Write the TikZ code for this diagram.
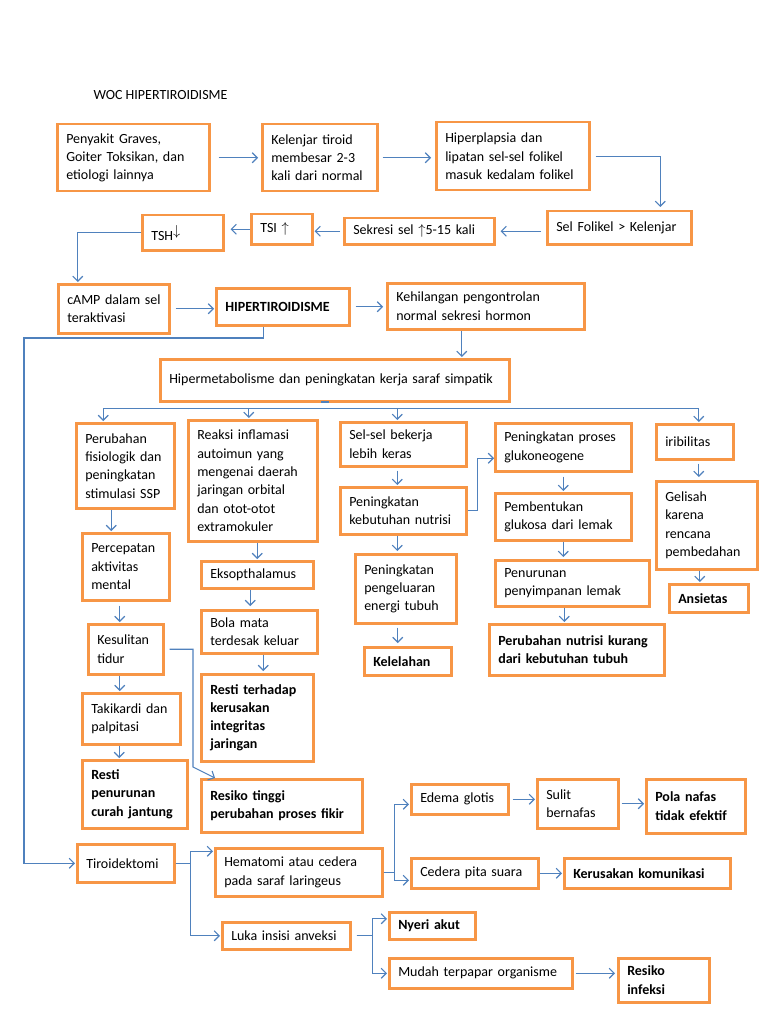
\documentclass[tikz,border=0pt]{standalone}
\usepackage{fontspec}
\setmainfont{Carlito}
\usetikzlibrary{arrows.meta}
\definecolor{boxorange}{HTML}{F79646}
\definecolor{lineblue}{HTML}{4F81BD}

\begin{document}
\begin{tikzpicture}[x=1pt, y=-1pt,
    every node/.style={font=\fontsize{14}{18.3}\selectfont},
    box/.style={draw=boxorange, line width=2.5pt, anchor=north west, align=left, inner xsep=9pt, inner ysep=3pt},
    bold/.style={font=\fontsize{14}{18.3}\selectfont\bfseries},
    sz/.style 2 args={text width=#1-18, minimum height=#2},
    link/.style={draw=lineblue, line width=1.1pt},
    arr/.style={link, -{Straight Barb[length=5pt,width=10pt]}}]
    \fill[white] (0,0) rectangle (768,1024);

    \node[anchor=west] (title) at (90,95) {WOC HIPERTIROIDISME};
    \node[box, sz={152}{67}] (graves) at (56,123) {Penyakit Graves,\\Goiter Toksikan, dan\\etiologi lainnya};
    \node[box, sz={115}{67}] (kelenjar) at (261,123) {Kelenjar tiroid\\membesar 2-3\\kali dari normal};
    \node[box, sz={153}{68}] (hiperplasia) at (435,121) {Hiperplapsia dan\\lipatan sel-sel folikel\\masuk kedalam folikel};
    \node[box, sz={144}{33}] (folikel) at (546,210) {Sel Folikel > Kelenjar};
    \node[box, sz={150}{26}] (sekresi) at (343,217) {Sekresi sel $\uparrow$5-15 kali};
    \node[box, sz={61}{30}] (tsi) at (250,213) {TSI $\uparrow$};
    \node[box, sz={81}{35}] (tsh) at (141,214) {TSH\raisebox{5pt}{$\downarrow$}};
    \node[box, sz={111}{49}] (camp) at (57,283) {\mbox{cAMP dalam sel}\\teraktivasi};
    \node[box, bold, sz={133}{37}] (hiper) at (215,287) {HIPERTIROIDISME};
    \node[box, sz={197}{46}] (kontrol) at (386,282) {Kehilangan pengontrolan\\normal sekresi hormon};
    \node[box, sz={349}{42}] (meta) at (159,358) {Hipermetabolisme dan peningkatan kerja saraf simpatik};

    \node[box, sz={98}{85}] (fisio) at (75,422) {Perubahan\\fisiologik dan\\peningkatan\\stimulasi SSP};
    \node[box, sz={87}{67}] (mental) at (81,532) {Percepatan\\aktivitas\\mental};
    \node[box, sz={75}{50}] (tidur) at (87,623) {Kesulitan\\tidur};
    \node[box, sz={98}{51}] (taki) at (81,692) {Takikardi dan\\palpitasi};
    \node[box, bold, sz={105}{68}] (jantung) at (81,759) {Resti\\penurunan\\curah jantung};
    \node[box, sz={129}{121}] (reaksi) at (187,419) {Reaksi inflamasi\\autoimun yang\\mengenai daerah\\jaringan orbital\\dan otot-otot\\extramokuler};
    \node[box, sz={112}{27}] (eksop) at (200,560) {Eksopthalamus};
    \node[box, sz={116}{43}] (bola) at (200,609) {Bola mata\\terdesak keluar};
    \node[box, bold, sz={112}{87}] (integ) at (200,673) {Resti terhadap\\kerusakan\\integritas\\jaringan};
    \node[box, bold, sz={161}{53}] (fikir) at (200,778) {Resiko tinggi\\perubahan proses fikir};
    \node[box, sz={126}{44}] (keras) at (339,421) {Sel-sel bekerja\\lebih keras};
    \node[box, sz={126}{47}] (butuh) at (339,486) {Peningkatan\\kebutuhan nutrisi};
    \node[box, sz={101}{69}] (energi) at (354,553) {Peningkatan\\pengeluaran\\energi tubuh};
    \node[box, bold, sz={87}{28}] (lelah) at (363,646) {Kelelahan};
    \node[box, sz={136}{48}] (gluko) at (494,422) {Peningkatan proses\\glukoneogene};
    \node[box, sz={136}{47}] (bentuk) at (494,492) {Pembentukan\\glukosa dari lemak};
    \node[box, sz={154}{46}] (simpan) at (494,559) {Penurunan\\penyimpanan lemak};
    \node[box, bold, sz={175}{51}] (nutrisi) at (488,623) {Perubahan nutrisi kurang\\dari kebutuhan tubuh};
    \node[box, sz={77}{35}] (iri) at (655,423) {iribilitas};
    \node[box, sz={101}{88}] (gelisah) at (655,480) {Gelisah\\karena\\rencana\\pembedahan};
    \node[box, bold, sz={79}{28}] (ansietas) at (668,583) {Ansietas};

    \node[box, sz={97}{38}] (tiroid) at (76,843) {Tiroidektomi};
    \node[box, sz={167}{48}] (hemat) at (214,847) {Hematomi atau cedera\\pada saraf laringeus};
    \node[box, sz={97}{30}] (edema) at (410,783) {Edema glotis};
    \node[box, sz={81}{49}] (sulit) at (536,778) {Sulit\\bernafas};
    \node[box, bold, sz={99}{54}] (pola) at (645,778) {Pola nafas\\tidak efektif};
    \node[box, sz={127}{30}] (cedera) at (410,857) {Cedera pita suara};
    \node[box, bold, sz={166}{30}] (komun) at (563,857) {Kerusakan komunikasi};
    \node[box, sz={128}{27}] (luka) at (221,921) {Luka insisi anveksi};
    \node[box, bold, sz={86}{27}] (nyeri) at (388,911) {Nyeri akut};
    \node[box, sz={183}{30}] (mudah) at (388,957) {Mudah terpapar organisme};
    \node[box, bold, sz={91}{44}] (infeksi) at (617,957) {Resiko\\infeksi};

    \draw[arr, shorten <=8pt, shorten >=3pt] (graves.east) -- (graves.east -| kelenjar.west);
    \draw[arr, shorten <=4pt, shorten >=4pt] (kelenjar.east) -- (kelenjar.east -| hiperplasia.west);
    \draw[arr] ([xshift=5pt]hiperplasia.east) -| ([xshift=41pt,yshift=3pt]folikel.north);
    \draw[arr, shorten <=5pt, shorten >=5pt] (sekresi.east -| folikel.west) -- (sekresi.east);
    \draw[arr, shorten <=3pt, shorten >=1pt] (sekresi.west) -- (sekresi.west -| tsi.east);
    \draw[arr, shorten >=6pt] (tsi.west) -- (tsi.west -| tsh.east);
    \draw[arr, shorten >=1pt] (tsh.west) -| ([xshift=-36pt]camp.north);
    \draw[arr, shorten <=5pt, shorten >=1pt] (camp.east) -- (camp.east -| hiper.west);
    \draw[arr, shorten <=5pt, shorten >=3pt] (hiper.east) -- (hiper.east -| kontrol.west);
    \draw[arr, shorten >=1pt] ([xshift=-24pt]kontrol.south) -- ([xshift=-24pt]kontrol.south |- meta.north);
    \coordinate (rail) at (24,338);
    \draw[arr, shorten >=1pt] ([xshift=-19.5pt]hiper.south) |- (rail) |- (tiroid.west);

    \coordinate (bus) at ([yshift=-6pt]meta.south);
    \draw[link] ([xshift=-22pt]fisio.north |- bus) -- ([xshift=4pt]iri.north |- bus);
    \draw[link] (321,402) -- (329,402);
    \foreach \n/\d in {fisio/-22, reaksi/-4, keras/-6, iri/4}
        \draw[arr, shorten >=1pt] ([xshift=\d pt]\n.north |- bus) -- ([xshift=\d pt]\n.north);

    \draw[arr, shorten >=1pt] ([xshift=-14pt]fisio.south) -- ([xshift=-14pt]fisio.south |- mental.north);
    \draw[arr, shorten <=4pt, shorten >=1pt] ([xshift=-6pt]mental.south) -- ([xshift=-6pt]mental.south |- tidur.north);
    \draw[arr, shorten >=1pt] ([xshift=-6pt]tidur.south) -- ([xshift=-6pt]tidur.south |- taki.north);
    \draw[arr, shorten >=1pt] ([xshift=-12pt]taki.south) -- ([xshift=-12pt]taki.south |- jantung.north);
    \coordinate (bend) at (193,767);
    \draw[arr] ([xshift=5pt]tidur.east) -| (bend) -- ([xshift=15pt]fikir.north west);

    \draw[arr, shorten >=1pt] (eksop.north |- reaksi.south) -- (eksop.north);
    \draw[arr, shorten >=3pt] ([xshift=-7pt]eksop.south) -- ([xshift=-7pt]eksop.south |- bola.north);
    \draw[arr, shorten >=2pt] ([xshift=4pt]bola.south) -- ([xshift=4pt]bola.south |- integ.north);

    \draw[arr, shorten <=3pt, shorten >=1pt] ([xshift=-6pt]keras.south) -- ([xshift=-6pt]keras.south |- butuh.north);
    \draw[arr] (butuh.east) -- ++(10,0) |- ([yshift=-11pt]gluko.west);
    \draw[arr, shorten >=2pt] ([xshift=-6pt]butuh.south) -- ([xshift=-6pt]butuh.south |- energi.north);
    \draw[arr, shorten <=3pt, shorten >=3pt] ([xshift=-8pt]energi.south) -- ([xshift=-8pt]energi.south |- lelah.north);

    \draw[arr, shorten <=4pt, shorten >=1pt] (gluko.south) -- (gluko.south |- bentuk.north);
    \draw[arr, shorten >=2pt] (bentuk.south) -- (bentuk.south |- simpan.north);
    \draw[arr, shorten >=1pt] ([xshift=-8pt]simpan.south) -- ([xshift=-8pt]simpan.south |- nutrisi.north);
    \draw[arr, shorten <=3pt, shorten >=3pt] ([xshift=4pt]iri.south) -- ([xshift=4pt]iri.south |- gelisah.north);
    \draw[arr, shorten >=1pt] ([xshift=-7pt]gelisah.south) -- ([xshift=-7pt]gelisah.south |- ansietas.north);

    \draw[arr, shorten >=1pt] (tiroid.east) -- ++(15,0) |- ([yshift=21pt]hemat.west);
    \draw[arr, shorten >=1pt] (tiroid.east) -- ++(15,0) |- (luka.west);
    \draw[arr, shorten >=1pt] (hemat.east) -- ++(11,0) |- ([yshift=-5pt]edema.west);
    \draw[arr, shorten >=1pt] (hemat.east) -- ++(11,0) |- ([yshift=-7pt]cedera.west);
    \draw[arr, shorten <=3pt, shorten >=1pt] (edema.east) -- (edema.east -| sulit.west);
    \draw[arr, shorten <=2pt, shorten >=1pt] (sulit.east) -- (sulit.east -| pola.west);
    \draw[arr, shorten >=1pt] (cedera.east) -- (cedera.east -| komun.west);
    \draw[arr, shorten >=1pt] ([xshift=5pt]luka.east) -- ++(16,0) |- ([yshift=7pt]nyeri.west);
    \draw[arr, shorten >=1pt] ([xshift=5pt]luka.east) -- ++(16,0) |- (mudah.west);
    \draw[arr, shorten <=2pt, shorten >=2pt] (mudah.east) -- (mudah.east -| infeksi.west);
\end{tikzpicture}
\end{document}
